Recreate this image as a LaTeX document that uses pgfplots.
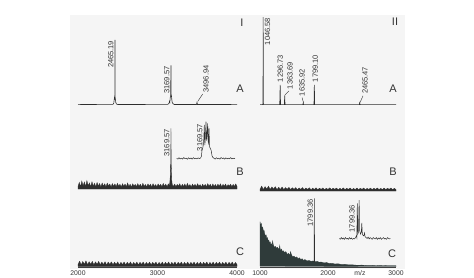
\documentclass[border=0pt]{standalone}
\usepackage{pgfplots}
\pgfplotsset{compat=1.18}
\usepackage{fontspec}
\setmainfont{Liberation Sans}
\definecolor{bgray}{HTML}{F5F5F5}
\definecolor{spec}{HTML}{2E2E2E}
\definecolor{rcfill}{HTML}{2F3B3A}
\newcommand\lab{\fontsize{7.5}{8}\selectfont}
\newcommand\panfont{\fontsize{11}{12}\selectfont}
\tikzset{lb/.style={font=\lab, text=black!80, rotate=90, inner sep=0.8pt}}
\pgfplotsset{
  sp/.style={scale only axis, clip=false, height=88pt, ymin=0, ymax=100},
  hid/.style={hide axis},
  bot/.style={hide y axis, axis x line=bottom, x axis line style={-, draw=black!75, line width=0.8pt},
     major tick length=0pt, typeset ticklabels with strut,
     xticklabel style={font=\fontsize{6.8}{7}\selectfont, text=black!80, inner sep=1.5pt, yshift=-1.5pt},
     /pgf/number format/assume math mode=true},
  L/.style={sp, width=159pt, xmin=2000, xmax=4000},
  R/.style={sp, width=136pt, xmin=1000, xmax=3000},
  sl/.style={color=spec, line width=0.6pt},
  nz/.style={draw=spec, fill=spec, line width=0.3pt},
}
\begin{document}
\begin{tikzpicture}
\path[use as bounding box] (0,0) rectangle (474pt,277pt);
\fill[bgray] (70pt,8pt) rectangle (405pt,262pt);

% ---------- Left A ----------
\begin{axis}[L, hid, at={(78pt,172pt)}, anchor=south west]
\addplot[sl] coordinates {(2000,0.5)(2200,0.6)(2440,0.8)(2450,2)(2455,6)(2460,9)(2463,8)(2465.19,74)(2467,9)(2470,7)(2475,3)(2485,1)(2500,0.6)(2800,0.6)(3130,0.8)(3145,2)(3150,4)(3155,3)(3160,8)(3165,11)(3169.57,45)(3172,12)(3176,10)(3180,6)(3185,3)(3195,1.5)(3210,0.6)(3490,0.6)(3496.94,3)(3503,0.6)(4000,0.5)};
\node[lb, anchor=south east] at (axis cs:2458,74) {2465.19};
\node[lb, anchor=south east] at (axis cs:3162,45) {3169.57};
\node[lb, anchor=west] at (axis cs:3610,13) {3496.94};
\draw[spec, line width=0.4pt] (axis cs:3569,12.5) -- (axis cs:3506,4);
\end{axis}

% ---------- Right A ----------
\begin{axis}[R, hid, at={(260pt,172pt)}, anchor=south west]
\addplot[sl] coordinates {(1000,0.5)(1040,0.5)(1044,2)(1046.58,100)(1049,2)(1055,0.5)(1290,0.5)(1296.73,23)(1302,0.5)(1358,0.5)(1363.69,11)(1368,0.5)(1630,0.5)(1635.92,2.5)(1641,0.5)(1794,0.5)(1799.10,23)(1804,0.5)(2460,0.5)(2465.47,2.5)(2471,0.5)(3000,0.5)};
\node[lb, anchor=north east] at (axis cs:1056,100) {1046.58};
\node[lb, anchor=west] at (axis cs:1300,25) {1296.73};
\node[lb, anchor=west] at (axis cs:1441,17) {1363.69};
\draw[spec, line width=0.4pt] (axis cs:1426,16) -- (axis cs:1368,11.5);
\node[lb, anchor=west] at (axis cs:1618,9) {1635.92};
\draw[spec, line width=0.4pt] (axis cs:1618,8.5) .. controls (axis cs:1640,6) .. (axis cs:1640,2.5);
\node[lb, anchor=west] at (axis cs:1812,25) {1799.10};
\node[lb, anchor=west] at (axis cs:2544,11.4) {2465.47};
\draw[spec, line width=0.4pt] (axis cs:2515,10.5) -- (axis cs:2471,2.8);
\end{axis}

% ---------- Left B ----------
\begin{axis}[L, hid, at={(78pt,88pt)}, anchor=south west]
\addplot[nz] coordinates {(2000,3.0)(2016,7.5)(2032,2.5)(2048,9.0)(2064,3.5)(2080,8.0)(2096,2.8)(2112,9.5)(2128,3.6)(2144,7.0)(2160,2.6)(2176,8.2)(2192,3.2)(2208,6.5)(2224,2.4)(2240,7.4)(2256,3.4)(2272,6.3)(2288,2.2)(2304,6.8)(2320,3.1)(2336,5.9)(2352,2.5)(2368,6.6)(2384,3.5)(2400,5.6)(2416,2.3)(2432,6.2)(2448,3.0)(2464,5.8)(2480,2.6)(2496,6.4)(2512,3.3)(2528,5.3)(2544,2.4)(2560,6.0)(2576,3.2)(2592,5.6)(2608,2.5)(2624,6.9)(2640,2.9)(2656,5.4)(2672,2.3)(2688,5.9)(2704,3.4)(2720,5.2)(2736,2.6)(2752,6.1)(2768,3.1)(2784,5.5)(2800,2.4)(2816,6.5)(2832,3.0)(2848,5.1)(2864,2.5)(2880,5.8)(2896,3.3)(2912,5.4)(2928,2.3)(2944,6.0)(2960,2.9)(2976,5.0)(2992,2.6)(3008,5.7)(3024,3.2)(3040,5.3)(3056,2.4)(3072,6.3)(3088,3.0)(3104,5.5)(3120,2.5)(3136,5.8)(3148,4)(3155,7)(3160,14)(3164,28)(3167,24)(3169.57,69)(3172,30)(3175,22)(3179,10)(3184,6)(3190,4)(3200,3.1)(3216,5.6)(3232,2.6)(3248,5.2)(3264,3.3)(3280,5.9)(3296,2.4)(3312,5.4)(3328,2.9)(3344,5.7)(3360,2.5)(3376,6.4)(3392,3.1)(3408,5.1)(3424,2.3)(3440,5.6)(3456,3.0)(3472,5.3)(3488,2.6)(3504,6.0)(3520,3.2)(3536,5.0)(3552,2.4)(3568,5.5)(3584,3.0)(3600,5.2)(3616,2.5)(3632,6.1)(3648,3.3)(3664,5.4)(3680,2.3)(3696,5.7)(3712,2.9)(3728,5.1)(3744,2.6)(3760,5.5)(3776,3.1)(3792,5.9)(3808,2.4)(3824,5.3)(3840,3.0)(3856,5.6)(3872,2.5)(3888,5.0)(3904,3.2)(3920,5.5)(3936,2.6)(3952,5.2)(3968,2.9)(3984,5.7)(4000,3.0)} \closedcycle;
\addplot[spec, line width=0.5pt] coordinates {(3241,35)(3256,34)(3271,35.5)(3286,34.2)(3301,35)(3316,34)(3331,35.8)(3346,34.5)(3361,35)(3376,33.8)(3391,35.5)(3406,34.3)(3421,35.2)(3436,34)(3451,35.6)(3466,34.4)(3481,35)(3496,34.2)(3511,35.4)(3526,34.6)(3541,35.2)(3552,37)(3560,44)(3570,47)(3580,52)(3589,73)(3595,50)(3600,55)(3610,76.5)(3617,55)(3622,58)(3631,74.6)(3638,54)(3643,52)(3648,69)(3655,48)(3665,46)(3675,44)(3685,38)(3695,36)(3710,35)(3725,34)(3740,35.5)(3755,34.3)(3770,35)(3785,34)(3800,35.8)(3815,34.5)(3830,35.2)(3845,34)(3860,35.5)(3875,34.2)(3890,35)(3905,34.4)(3920,35.6)(3935,34.2)(3950,35)(3965,34.5)(3975,35)};
\node[lb, anchor=south east] at (axis cs:3164,69) {3169.57};
\node[lb, anchor=south east] at (axis cs:3578,75) {3169.57};
\end{axis}

% ---------- Right B ----------
\begin{axis}[R, hid, at={(260pt,86pt)}, anchor=south west]
\addplot[nz] coordinates {(1000,2.0)(1025,5.5)(1050,1.6)(1075,5.0)(1100,2.2)(1125,5.4)(1150,1.8)(1175,4.6)(1200,2.1)(1225,4.9)(1250,1.5)(1275,4.2)(1300,1.9)(1325,4.5)(1350,1.6)(1375,3.9)(1400,2.0)(1425,4.2)(1450,1.7)(1475,3.7)(1500,2.0)(1525,3.9)(1550,1.5)(1575,3.5)(1600,1.8)(1625,3.8)(1650,1.6)(1675,3.4)(1700,1.9)(1725,3.7)(1750,1.4)(1775,3.3)(1800,1.7)(1825,3.6)(1850,1.6)(1875,3.2)(1900,1.9)(1925,3.5)(1950,1.5)(1975,3.1)(2000,1.8)(2025,3.6)(2050,1.6)(2075,3.2)(2100,1.9)(2125,3.4)(2150,1.5)(2175,3.0)(2200,1.8)(2225,3.5)(2250,1.6)(2275,3.1)(2300,1.9)(2325,3.4)(2350,1.4)(2375,3.0)(2400,1.7)(2425,3.3)(2450,1.6)(2475,3.1)(2500,1.9)(2525,3.4)(2550,1.5)(2575,3.0)(2600,1.8)(2625,3.3)(2650,1.6)(2675,3.1)(2700,1.9)(2725,3.4)(2750,1.5)(2775,3.0)(2800,1.7)(2825,3.3)(2850,1.6)(2875,3.1)(2900,1.9)(2925,3.4)(2950,1.5)(2975,3.0)(3000,1.7)} \closedcycle;
\end{axis}

% ---------- Left C ----------
\begin{axis}[L, bot, at={(78pt,9.5pt)}, anchor=south west, xtick={2000,3000,4000}, xticklabels={2000,3000,4000}]
\addplot[nz] coordinates {(2000,1.3)(2000,3.5)(2020,7.2)(2040,3.0)(2060,6.8)(2080,3.8)(2100,7.5)(2120,3.2)(2140,6.6)(2160,3.6)(2180,7.0)(2200,3.0)(2220,6.4)(2240,3.7)(2260,6.9)(2280,3.1)(2300,6.2)(2320,3.4)(2340,6.5)(2360,3.0)(2380,6.1)(2400,3.6)(2420,6.4)(2440,3.1)(2460,6.0)(2480,3.5)(2500,6.3)(2520,3.0)(2540,5.9)(2560,3.4)(2580,6.2)(2600,3.1)(2620,5.9)(2640,3.5)(2660,6.3)(2680,3.0)(2700,5.8)(2720,3.4)(2740,6.1)(2760,3.1)(2780,5.9)(2800,3.6)(2820,6.2)(2840,3.0)(2860,5.8)(2880,3.4)(2900,6.1)(2920,3.1)(2940,5.9)(2960,3.5)(2980,6.2)(3000,3.0)(3020,5.8)(3040,3.4)(3060,6.1)(3080,3.1)(3100,5.9)(3120,3.5)(3140,6.2)(3160,3.0)(3180,5.8)(3200,3.4)(3220,6.1)(3240,3.1)(3260,5.9)(3280,3.6)(3300,6.2)(3320,3.0)(3340,5.8)(3360,3.4)(3380,6.1)(3400,3.1)(3420,5.9)(3440,3.5)(3460,6.2)(3480,3.0)(3500,5.8)(3520,3.4)(3540,6.1)(3560,3.1)(3580,5.9)(3600,3.5)(3620,6.2)(3640,3.0)(3660,5.8)(3680,3.4)(3700,6.1)(3720,3.1)(3740,5.9)(3760,3.6)(3780,6.2)(3800,3.0)(3820,5.8)(3840,3.4)(3860,6.1)(3880,3.1)(3900,5.9)(3920,3.5)(3940,6.2)(3960,3.0)(3980,5.8)(4000,3.4)(4000,1.3)(2000,1.3)};
\end{axis}

% ---------- Right C ----------
\begin{axis}[R, bot, at={(260pt,9.5pt)}, anchor=south west, xtick={1000,2000,2470,3000}, xticklabels={1000,2000,m/z,3000}]
\addplot[draw=rcfill, fill=rcfill, line width=0.3pt] coordinates {(1000,1.5)(1000,52)(1010,48)(1020,50)(1030,44)(1040,46)(1050,41)(1060,42)(1070,38)(1080,36)(1090,37)(1100,33)(1110,34)(1120,30)(1130,31)(1140,28)(1150,29)(1160,26)(1170,27)(1180,25)(1185,30)(1195,26)(1210,23)(1225,24)(1240,22)(1255,23)(1270,21)(1285,22)(1290,25)(1300,19)(1315,21)(1330,18)(1345,19)(1360,17)(1380,18)(1400,15)(1420,16)(1440,14)(1450,18)(1460,15)(1480,12)(1500,13)(1520,11)(1540,12)(1560,10)(1580,11)(1600,9)(1620,10)(1640,8)(1660,9)(1690,7.5)(1720,8)(1750,7)(1780,7.5)(1810,6.5)(1840,7)(1870,6)(1900,6.2)(1940,5.2)(1980,5.6)(2020,4.6)(2060,4.8)(2100,4)(2150,4.2)(2200,3.4)(2250,3.6)(2300,3.0)(2350,3.1)(2420,2.6)(2500,2.7)(2580,2.3)(2660,2.4)(2740,2.1)(2820,2.2)(2900,2.0)(3000,2.0)(3000,1.2)(2000,1.3)(1000,1.5)};
\addplot[color=spec, line width=0.6pt] coordinates {(1797,6)(1799.36,78.6)(1801.7,6)};
\addplot[spec, line width=0.5pt] coordinates {(2166,33)(2180,32)(2195,34)(2210,32.5)(2225,33.5)(2240,32)(2255,34)(2270,32.5)(2285,33)(2300,32)(2315,34)(2330,32.5)(2345,33.5)(2360,32)(2375,33)(2390,32.5)(2405,34)(2418,36)(2424,34)(2431,73)(2438,38)(2448,40)(2458,76.7)(2466,42)(2478,38)(2490,40)(2497,50.6)(2505,38)(2520,36)(2532,37)(2538,39.2)(2545,35)(2560,34)(2575,33)(2590,34.5)(2605,32.5)(2620,34)(2635,33)(2650,32)(2665,34)(2680,33)(2695,32.5)(2710,34)(2725,32)(2740,33.5)(2755,32.5)(2770,34)(2785,32)(2800,33)(2815,34)(2830,32.5)(2845,33)(2860,32)(2875,34)(2890,33)(2905,32.5)(2916,33)};
\node[lb, anchor=south east] at (axis cs:1792,78.6) {1799.36};
\node[lb, anchor=south east] at (axis cs:2408,72) {1799.36};
\end{axis}

% ---------- panel letters ----------
\node[font=\panfont, text=black!80] at (242pt,254pt) {I};
\node[font=\panfont, text=black!80] at (395pt,255pt) {II};
\node[font=\panfont, text=black!80] at (240pt,188pt) {A};
\node[font=\panfont, text=black!80] at (393pt,188pt) {A};
\node[font=\panfont, text=black!80] at (240pt,105pt) {B};
\node[font=\panfont, text=black!80] at (393pt,105pt) {B};
\node[font=\panfont, text=black!80] at (240pt,25pt) {C};
\node[font=\panfont, text=black!80] at (392pt,23pt) {C};
\end{tikzpicture}
\end{document}
